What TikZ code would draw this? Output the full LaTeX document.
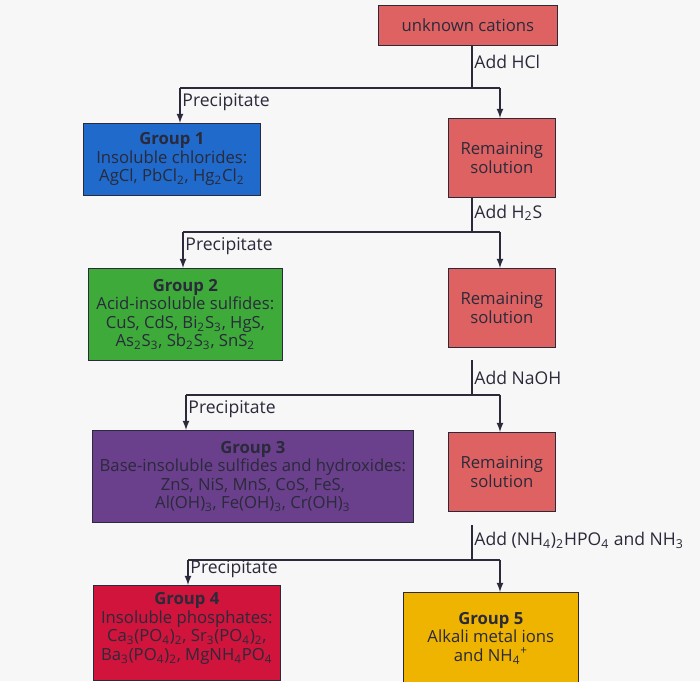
\documentclass[tikz,border=0pt]{standalone}
\usepackage{fontspec}
\setmainfont{Open Sans}
\usetikzlibrary{positioning}
\definecolor{boxred}{HTML}{DE6262}
\definecolor{grpblue}{HTML}{1F6ACB}
\definecolor{grpgreen}{HTML}{3DAA3A}
\definecolor{grppurple}{HTML}{6A3F8C}
\definecolor{grpcrimson}{HTML}{D0143C}
\definecolor{grpyellow}{HTML}{EEB400}
\definecolor{inkcol}{HTML}{2A2A3A}
\newcommand{\sbs}[1]{\textsubscript{#1}}
\tikzset{
    % A general box in the flow chart
    chart box/.style={draw=inkcol, anchor=north west, align=center, inner sep=2pt,
        text=inkcol, font=\fontsize{9.5}{10.5}\selectfont},
    solution/.style={chart box, fill=boxred, minimum width=2.14cm, minimum height=1.58cm},
    % Thin flow lines
    flow/.style={draw=inkcol, thick},
    arrow/.style={flow, ->, >=latex},
    label text/.style={text=inkcol, font=\fontsize{10}{11}\selectfont, inner sep=1pt}}
\begin{document}
\begin{tikzpicture}[x=0.02cm, y=-0.02cm]
\useasboundingbox[fill=gray!6] (0,0) rectangle (700,681);

% Start and the three remaining solutions
\node[chart box, fill=boxred, minimum width=3.58cm, minimum height=0.8cm] at (378,5)
    (start) {unknown cations};
\node[solution] at (448,118) (rem1) {Remaining\\solution};
\node[solution] at (448,268) (rem2) {Remaining\\solution};
\node[solution] at (448,432) (rem3) {Remaining\\solution};

% Precipitated groups
\node[chart box, fill=grpblue, minimum width=3.54cm, minimum height=1.44cm] at (83,123)
    (g1) {\textbf{Group 1}\\Insoluble chlorides:\\AgCl, PbCl\sbs{2}, Hg\sbs{2}Cl\sbs{2}};
\node[chart box, fill=grpgreen, minimum width=3.88cm, minimum height=1.84cm] at (88,268)
    (g2) {\textbf{Group 2}\\Acid-insoluble sulfides:\\CuS, CdS, Bi\sbs{2}S\sbs{3}, HgS,\\As\sbs{2}S\sbs{3}, Sb\sbs{2}S\sbs{3}, SnS\sbs{2}};
\node[chart box, fill=grppurple, minimum width=6.42cm, minimum height=1.84cm] at (92,430)
    (g3) {\textbf{Group 3}\\Base-insoluble sulfides and hydroxides:\\ZnS, NiS, MnS, CoS, FeS,\\Al(OH)\sbs{3}, Fe(OH)\sbs{3}, Cr(OH)\sbs{3}};
\node[chart box, fill=grpcrimson, minimum width=3.74cm, minimum height=1.9cm, anchor=north west, text depth=0.25cm] at (93,585)
    (g4) {\textbf{Group 4}\\Insoluble phosphates:\\Ca\sbs{3}(PO\sbs{4})\sbs{2}, Sr\sbs{3}(PO\sbs{4})\sbs{2},\\Ba\sbs{3}(PO\sbs{4})\sbs{2}, MgNH\sbs{4}PO\sbs{4}};
\node[chart box, fill=grpyellow, minimum width=3.5cm, minimum height=1.84cm] at (403,592)
    (g5) {\textbf{Group 5}\\Alkali metal ions\\and NH\sbs{4}\textsuperscript{+}};

% Branch points
\coordinate (s1) at (472,45);   \coordinate (j1) at (472,88);
\coordinate (s2) at (472,197);  \coordinate (j2) at (472,232);
\coordinate (s3) at (472,360);  \coordinate (j3) at (472,395);
\coordinate (s4) at (472,525);  \coordinate (j4) at (472,560);
\coordinate (l1) at (180,88);   \coordinate (r1) at (500,88);
\coordinate (l2) at (183,232);  \coordinate (r2) at (500,232);
\coordinate (l3) at (186,395);  \coordinate (r3) at (500,395);
\coordinate (l4) at (188,560);  \coordinate (r4) at (500,560);

\draw[flow] (s1) -- (j1) node[pos=0.4, right, label text] {Add HCl};
\draw[flow] (s2) -- (j2) node[pos=0.45, right, label text] {Add H\sbs{2}S};
\draw[flow] (s3) -- (j3) node[pos=0.5, right, label text] {Add NaOH};
\draw[flow] (s4) -- (j4) node[pos=0.45, right, label text] {Add (NH\sbs{4})\sbs{2}HPO\sbs{4} and NH\sbs{3}};
\draw[flow] (l1) -- (r1);
\draw[flow] (l2) -- (r2);
\draw[flow] (l3) -- (r3);
\draw[flow] (l4) -- (r4);

\draw[arrow] (l1) -- (l1 |- g1.north) node[pos=0.4, right, label text] {Precipitate};
\draw[arrow] (l2) -- (l2 |- g2.north) node[pos=0.4, right, label text] {Precipitate};
\draw[arrow] (l3) -- (l3 |- g3.north) node[pos=0.4, right, label text] {Precipitate};
\draw[arrow] (l4) -- (l4 |- g4.north) node[pos=0.35, right, label text] {Precipitate};
\draw[arrow] (r1) -- (r1 |- rem1.north);
\draw[arrow] (r2) -- (r2 |- rem2.north);
\draw[arrow] (r3) -- (r3 |- rem3.north);
\draw[arrow] (r4) -- (r4 |- g5.north);
\end{tikzpicture}
\end{document}
